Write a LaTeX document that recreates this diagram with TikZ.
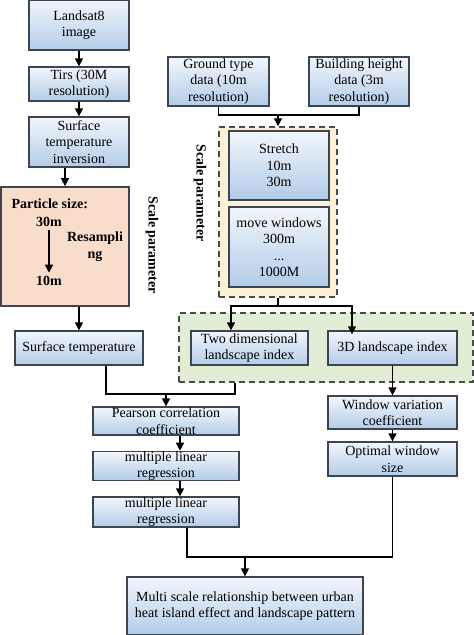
\documentclass[tikz,border=0pt]{standalone}
\usepackage{fontspec}
\setmainfont{Liberation Serif}
\usetikzlibrary{arrows.meta}
\definecolor{boxline}{HTML}{3D4650}
\definecolor{blueTop}{HTML}{F2F6FC}
\definecolor{blueBot}{HTML}{B3CCE8}
\definecolor{peach}{HTML}{F9DDCB}
\definecolor{sand}{HTML}{FDF1D5}
\definecolor{mint}{HTML}{E2EDD5}
\definecolor{dashgrey}{HTML}{4A4A48}

\begin{document}
\begin{tikzpicture}[x=1pt, y=-1pt, font=\fontsize{14}{16.5}\selectfont,
	box/.style={draw=boxline, line width=1.3pt, top color=blueTop, bottom color=blueBot, align=center, inner sep=0pt},
	group/.style={draw=dashgrey, line width=1.5pt, dash pattern=on 6pt off 4pt},
	link/.style={line width=1.3pt},
	arr/.style={link, -{Triangle[width=8pt,length=8pt]}}]
	\useasboundingbox (0,0) rectangle (474,635);
	%groups
	\node[group, fill=sand, minimum width=118pt, minimum height=170pt] (scalebox) at (278,212) {};
	\node[group, fill=mint, minimum width=294pt, minimum height=69pt] (greenbox) at (326,347.5) {};
	%left column
	\node[box, minimum width=100pt, minimum height=50pt] (landsat) at (79,25) {Landsat8\\image};
	\node[box, minimum width=100pt, minimum height=34pt] (tirs) at (79,84) {Tirs (30M\\resolution)};
	\node[box, minimum width=100pt, minimum height=50pt] (inversion) at (79,142) {Surface\\temperature\\inversion};
	\node[draw=boxline, line width=1.8pt, fill=peach, minimum width=128pt, minimum height=119pt] (particle) at (65,246.5) {};
	\node[anchor=west] (psize) at (8,204) {\textbf{Particle size:}};
	\node (p30) at (49,222) {\textbf{30m}};
	\node (p10) at (49,281) {\textbf{10m}};
	\node[align=center] (resample) at (95,246.5) {\textbf{Resampli}\\\textbf{ng}};
	\node[rotate=-90] (scaleA) at (152,245) {\textbf{Scale parameter}};
	\node[box, minimum width=128pt, minimum height=34pt] (surftemp) at (79,348) {Surface temperature};
	%right column
	\node[box, minimum width=101pt, minimum height=49pt] (ground) at (218.5,81.5) {Ground type\\data (10m\\resolution)};
	\node[box, minimum width=100pt, minimum height=49pt] (building) at (359,81.5) {Building height\\data (3m\\resolution)};
	\node[box, minimum width=100pt, minimum height=69pt] (stretch) at (279,165.5) {Stretch\\10m\\30m};
	\node[box, minimum width=100pt, minimum height=80pt] (movewin) at (279,247) {move windows\\300m\\...\\1000M};
	\node[rotate=-90] (scaleB) at (200,193) {\textbf{Scale parameter}};
	\node[box, minimum width=117pt, minimum height=34pt] (twod) at (249.5,348) {Two dimensional\\landscape index};
	\node[box, minimum width=129pt, minimum height=34pt] (threed) at (392.5,348) {3D landscape index};
	\node[box, minimum width=129pt, minimum height=33pt] (winvar) at (392.5,412.5) {Window variation\\coefficient};
	\node[box, minimum width=129pt, minimum height=34pt] (optimal) at (392.5,459) {Optimal window\\size};
	%regression
	\node[box, minimum width=146pt, minimum height=28pt] (pearson) at (166,421) {Pearson correlation\\coefficient};
	\node[box, minimum width=146pt, minimum height=28pt] (mlrA) at (166,466) {multiple linear\\regression};
	\node[box, minimum width=146pt, minimum height=30pt] (mlrB) at (166,512) {multiple linear\\regression};
	\node[box, minimum width=236pt, minimum height=58pt] (final) at (245,606) {Multi scale relationship between urban\\heat island effect and landscape pattern};
	%connectors
	\coordinate (gb) at (278,115);
	\coordinate (sp) at (278,306);
	\coordinate (pj) at (166,394);
	\coordinate (fj) at (245,557);
	\draw[arr] (landsat) -- (tirs);
	\draw[arr] (tirs) -- (inversion);
	\draw[arr] (particle.north |- inversion.south) -- (particle.north);
	\draw[arr] (p30) -- (p10);
	\draw[arr] (surftemp.north |- particle.south) -- (surftemp.north);
	\draw[link] (ground.south) |- (gb) -| (building.south);
	\draw[arr] (gb) -- (scalebox.north);
	\draw[link] (scalebox.south) -- (sp);
	\draw[arr] (sp) -| ([xshift=-18.5pt]twod.north);
	\draw[arr] (sp) -| ([xshift=-40.5pt, yshift=-4pt]threed.north);
	\draw[arr] (threed) -- (winvar);
	\draw[arr] (winvar) -- (optimal);
	\draw[link] ([xshift=-91pt]greenbox.south) |- (pj);
	\draw[link] ([xshift=27pt]surftemp.south) |- (pj);
	\draw[arr] (pj) -- (pearson.north);
	\draw[arr] ([xshift=14pt]pearson.south) -- ([xshift=14pt]mlrA.north);
	\draw[arr] ([xshift=14pt]mlrA.south) -- ([xshift=14pt]mlrB.north);
	\draw[link] ([xshift=21pt]mlrB.south) |- (fj) -| (optimal.south);
	\draw[arr] (fj) -- (final.north);
\end{tikzpicture}
\end{document}
